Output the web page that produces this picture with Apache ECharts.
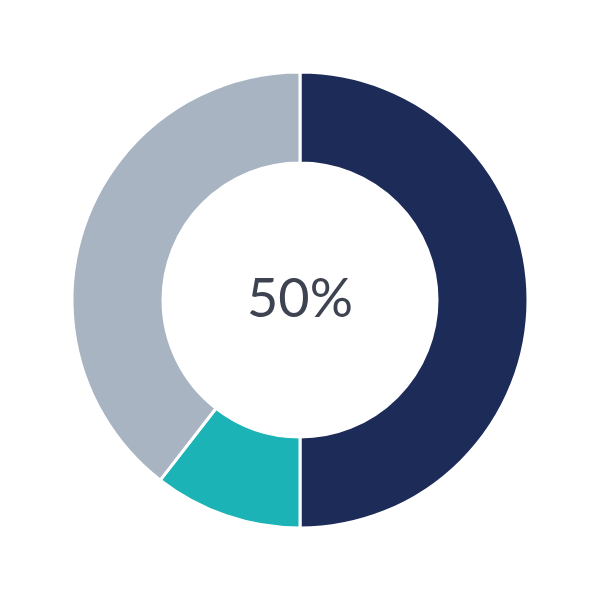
<!DOCTYPE html>
<html>
<head>
<meta charset="utf-8">
<script src="https://cdn.jsdelivr.net/npm/echarts@6/dist/echarts.min.js"></script>
<style>
    html, body { margin: 0; padding: 0; background: #fff; }
    #chart { width: 600px; height: 600px; }
</style>
</head>
<body>
<div id="chart"></div>
<script>
// slices, clockwise from 12 o'clock
const names = ['A', 'B', 'C']
const values = [50, 10.5, 39.5]
const colors = ['#1c2b58', '#1bb3b6', '#a9b4c3']
const centerLabel = '50%'

const myChart = echarts.init(document.getElementById('chart'))
const option = {
    animation: false,
    backgroundColor: '#fff',
    title: {
        text: centerLabel,
        left: 'center',
        top: 'middle',
        textStyle: {
            fontFamily: 'Lato',
            fontWeight: 'normal',
            fontSize: 54,
            color: '#3d4350'
        }
    },
    series: [
        {
            type: 'pie',
            center: [300, 300],
            radius: [137, 228],
            startAngle: 90,
            clockwise: true,
            label: { show: false },
            labelLine: { show: false },
            itemStyle: { borderColor: '#fff', borderWidth: 3 },
            emphasis: { disabled: true },
            data: names.map((n, i) => ({
                name: n,
                value: values[i],
                itemStyle: { color: colors[i] }
            }))
        }
    ]
}
myChart.setOption(option)
</script>
</body>
</html>
